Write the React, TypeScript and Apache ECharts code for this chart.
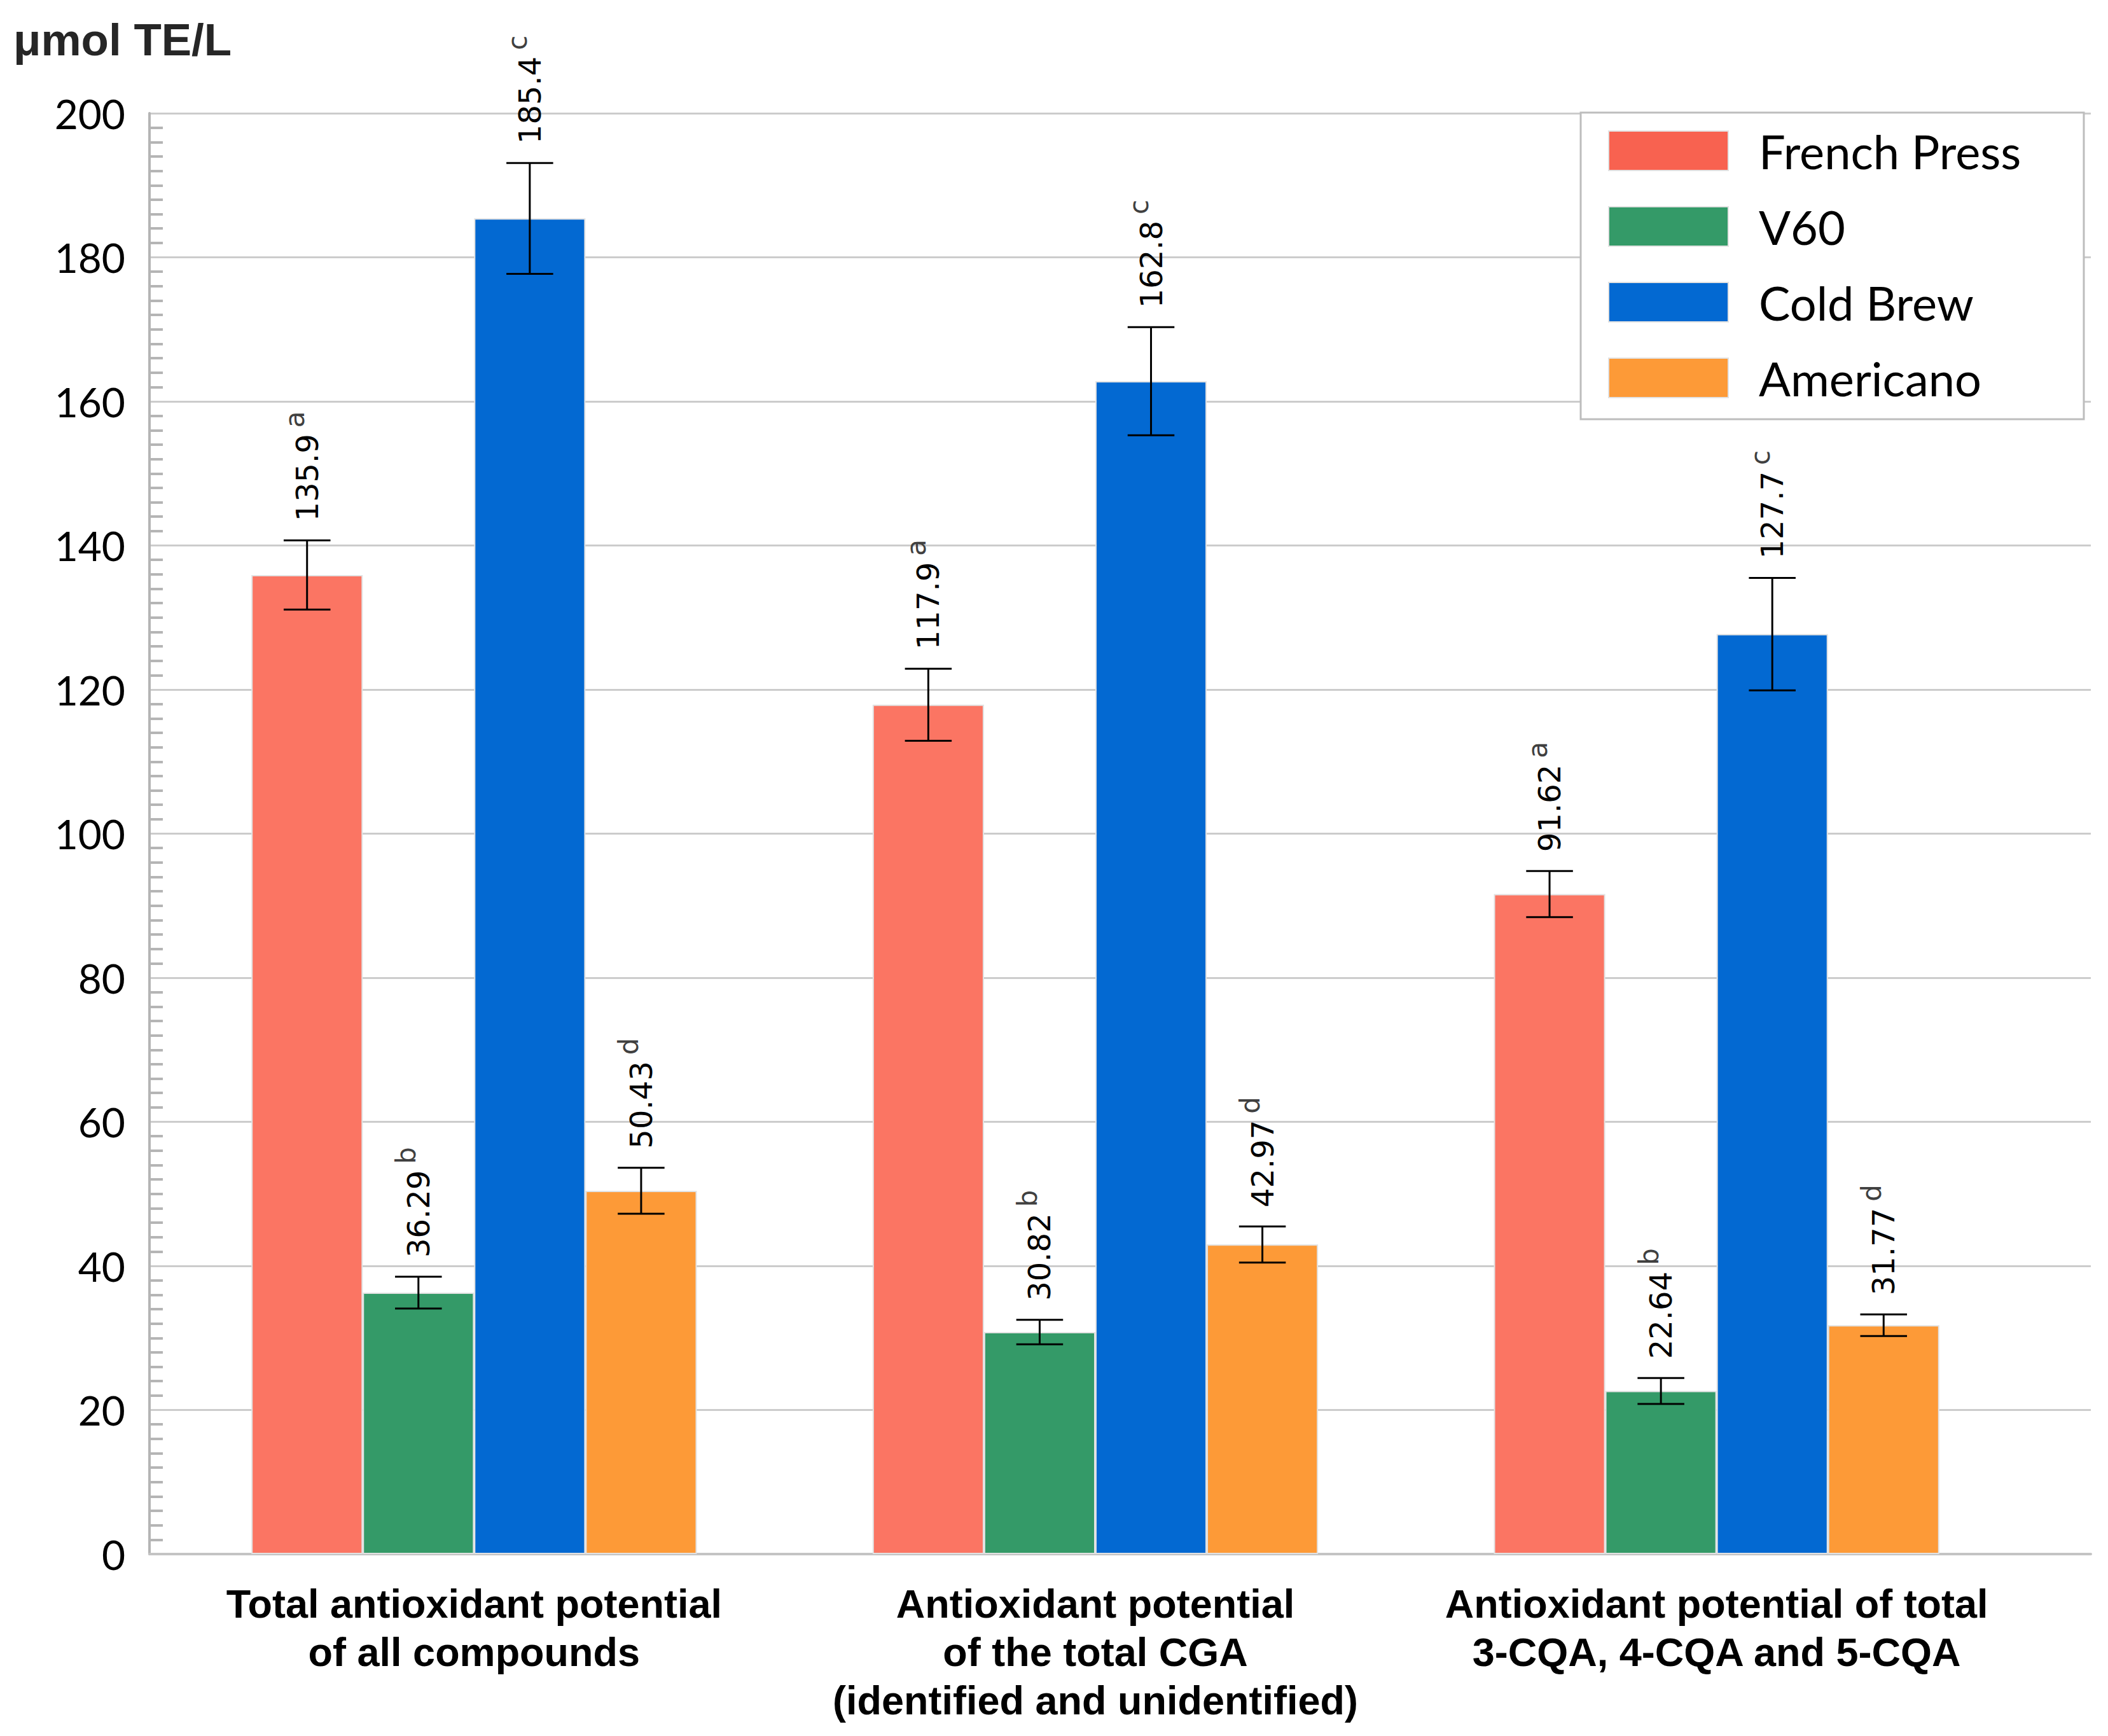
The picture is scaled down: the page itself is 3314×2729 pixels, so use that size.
import React, { useEffect, useRef } from "react";
import * as echarts from "echarts";

const categories = [
  "Total antioxidant potential\nof all compounds",
  "Antioxidant potential\nof the total CGA\n(identified and unidentified)",
  "Antioxidant potential of total\n3-CQA, 4-CQA and 5-CQA",
];
const seriesNames = ["French Press", "V60", "Cold Brew", "Americano"];
const seriesColors = ["#FB7563", "#349A68", "#0369D2", "#FD9A37"];
const legendColors = ["#F86250", "#349A68", "#0369D2", "#FD9A37"];
const frenchPress = [135.9, 117.9, 91.62];
const v60 = [36.29, 30.82, 22.64];
const coldBrew = [185.4, 162.8, 127.7];
const americano = [50.43, 42.97, 31.77];
const frenchPressErr = [4.8, 5.0, 3.2];
const v60Err = [2.2, 1.7, 1.8];
const coldBrewErr = [7.7, 7.5, 7.8];
const americanoErr = [3.2, 2.5, 1.5];
const valueLabels = [
  ["135.9", "117.9", "91.62"],
  ["36.29", "30.82", "22.64"],
  ["185.4", "162.8", "127.7"],
  ["50.43", "42.97", "31.77"],
];
const letters = ["a", "b", "c", "d"];
const yTicks = { min: 0, max: 200, interval: 20 };
const yTitle = "μmol TE/L";

const allValues = [frenchPress, v60, coldBrew, americano];
const allErrs = [frenchPressErr, v60Err, coldBrewErr, americanoErr];

const CAT_GAP = 0.283;
const LABEL_FONT = "DejaVu Sans";
const TICK_FONT = "Lato";

export default function App() {
  const ref = useRef<HTMLDivElement>(null);
  useEffect(() => {
    if (!ref.current) return;
    const chart = echarts.init(ref.current, undefined, { renderer: "svg" });

    const barSeries = seriesNames.map((name, si) => ({
      name,
      type: "bar",
      xAxisIndex: 1,
      yAxisIndex: 1,
      data: allValues[si],
      barGap: "0%",
      barCategoryGap: CAT_GAP * 100 + "%",
      itemStyle: {
        color: seriesColors[si],
        borderColor: "#e2e2e2",
        borderWidth: 2,
      },
      z: 2,
    }));

    const errSeries = seriesNames.map((name, si) => ({
      name: name + "-err",
      type: "custom",
      xAxisIndex: 1,
      yAxisIndex: 1,
      data: categories.map((c, i) => [i, allValues[si][i], allErrs[si][i]]),
      encode: { x: 0, y: 1 },
      z: 5,
      silent: true,
      renderItem: (params: any, api: any) => {
        const ci = api.value(0);
        const v = api.value(1);
        const e = api.value(2);
        const catW = api.size([1, 0])[0];
        const barW = (catW * (1 - CAT_GAP)) / 4;
        const cx = api.coord([ci, 0])[0] + (si - 1.5) * barW;
        const topY = api.coord([ci, v + e])[1];
        const botY = api.coord([ci, v - e])[1];
        const cap = barW * 0.21;
        const ls = { stroke: "#000", lineWidth: 3 };
        return {
          type: "group",
          children: [
            { type: "line", shape: { x1: cx, y1: topY, x2: cx, y2: botY }, style: ls },
            { type: "line", shape: { x1: cx - cap, y1: topY, x2: cx + cap, y2: topY }, style: ls },
            { type: "line", shape: { x1: cx - cap, y1: botY, x2: cx + cap, y2: botY }, style: ls },
            {
              type: "text",
              x: cx - 40,
              y: topY - 30,
              rotation: Math.PI / 2,
              style: {
                text: `{v|${valueLabels[si][ci]}}{s|${letters[si]}}`,
                align: "left",
                verticalAlign: "top",
                rich: {
                  v: {
                    fontSize: 48,
                    fontFamily: LABEL_FONT,
                    fill: "#000",
                    lineHeight: 64,
                    verticalAlign: "bottom",
                  },
                  s: {
                    fontSize: 42,
                    fontFamily: LABEL_FONT,
                    fill: "#404040",
                    lineHeight: 42,
                    verticalAlign: "top",
                    padding: [0, 0, 0, 10],
                  },
                },
              },
            },
          ],
        };
      },
    }));

    const gridTop = 178;
    const gridBottom = 286;

    chart.setOption({
      animation: false,
      backgroundColor: "#ffffff",
      grid: [
        { left: 235, right: 27, top: gridTop, bottom: gridBottom, outerBoundsMode: "none" },
        { left: 257, right: 127, top: gridTop, bottom: gridBottom, outerBoundsMode: "none" },
      ],
      legend: {
        data: seriesNames.map((n, i) => ({ name: n, itemStyle: { color: legendColors[i] } })),
        orient: "vertical",
        left: 2528,
        top: 200,
        padding: 0,
        icon: "rect",
        itemWidth: 188,
        itemHeight: 62,
        itemGap: 45,
        selectedMode: false,
        textStyle: {
          fontSize: 74,
          fontFamily: TICK_FONT,
          color: "#000",
          padding: [0, 0, 0, 43],
        },
        z: 10,
      },
      xAxis: [
        {
          type: "category",
          gridIndex: 0,
          data: categories,
          axisTick: { show: false },
          axisLabel: { show: false },
          axisLine: { lineStyle: { color: "#c4c4c4", width: 4 } },
        },
        {
          type: "category",
          gridIndex: 1,
          data: categories,
          axisTick: { show: false },
          axisLine: { show: false },
          axisLabel: {
            interval: 0,
            fontSize: 63,
            fontWeight: "bold",
            fontFamily: "Liberation Sans",
            color: "#000",
            lineHeight: 76,
            margin: 40,
          },
        },
      ],
      yAxis: [
        {
          type: "value",
          gridIndex: 0,
          min: yTicks.min,
          max: yTicks.max,
          interval: yTicks.interval,
          axisLine: { show: true, lineStyle: { color: "#b5b5b5", width: 4 } },
          axisTick: { show: false, inside: true },
          minorTick: {
            show: true,
            splitNumber: 10,
            length: 21,
            lineStyle: { color: "#b5b5b5", width: 4 },
          },
          splitLine: { lineStyle: { color: "#cccccc", width: 3 } },
          axisLabel: {
            fontSize: 64,
            fontFamily: TICK_FONT,
            color: "#000",
            margin: 38,
          },
        },
        {
          type: "value",
          gridIndex: 1,
          min: yTicks.min,
          max: yTicks.max,
          interval: yTicks.interval,
          show: false,
          splitLine: { show: false },
        },
      ],
      graphic: [
        {
          type: "rect",
          z: 8,
          shape: { x: 2485, y: 177, width: 791, height: 482 },
          style: { fill: "#ffffff", stroke: "#bdbdbd", lineWidth: 3 },
        },
        {
          type: "text",
          z: 8,
          x: 21,
          y: 62,
          style: {
            text: yTitle,
            fontSize: 71,
            fontWeight: "bold",
            fontFamily: "Liberation Sans",
            fill: "#262626",
            verticalAlign: "middle",
            align: "left",
          },
        },
      ],
      series: [...barSeries, ...errSeries],
    });

    return () => chart.dispose();
  }, []);

  return (
    <div
      ref={ref}
      style={{ position: "fixed", left: 0, top: 0, width: "3314px", height: "2729px" }}
    />
  );
}
